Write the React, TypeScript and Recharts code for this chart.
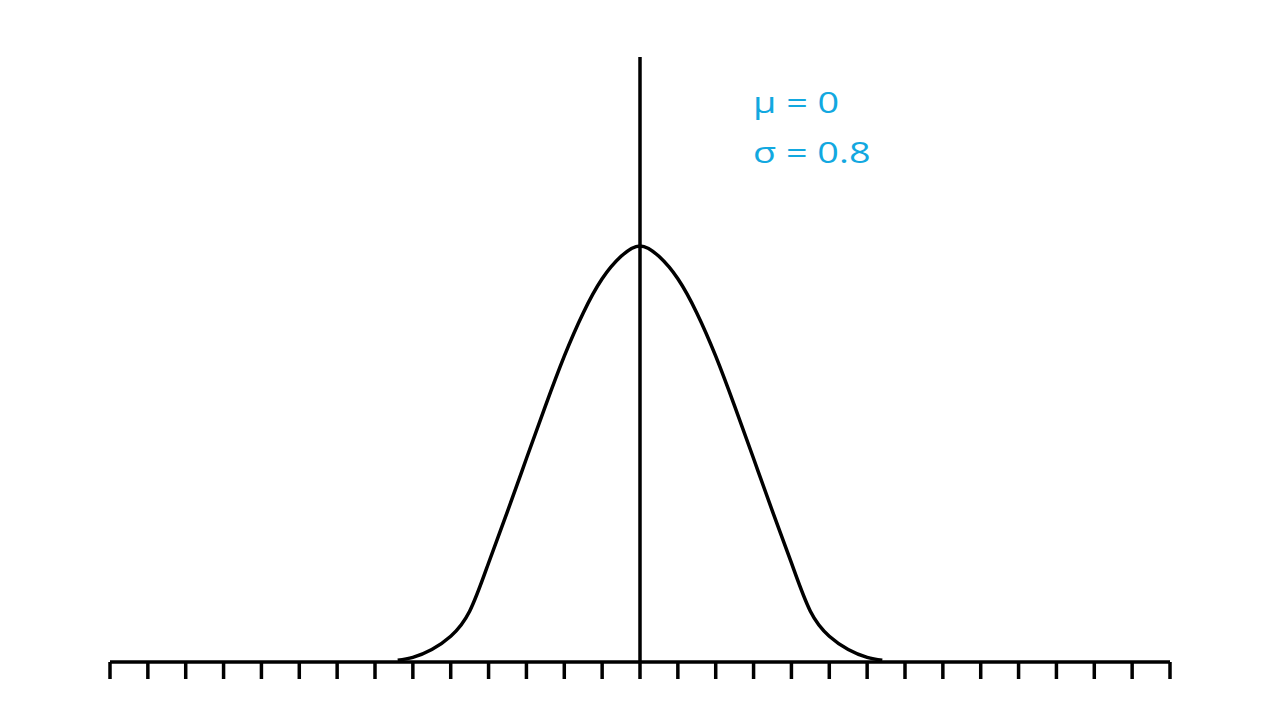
import React from "react";
import { LineChart, Line, XAxis, YAxis, ReferenceLine } from "recharts";

// x in tick-units (one tick = one unit), y relative to the peak (peak = 1)
const xLeft = [-6.4, -6, -5.5, -5, -4.5, -4, -3.5, -3, -2.5, -2, -1.5, -1, -0.5];
const yLeft = [0.004, 0.011, 0.03, 0.062, 0.122, 0.238, 0.362, 0.489, 0.615, 0.735, 0.839, 0.921, 0.975];
const peakY = 1.0;
const xTicks = [-14, -13, -12, -11, -10, -9, -8, -7, -6, -5, -4, -3, -2, -1, 0, 1, 2, 3, 4, 5, 6, 7, 8, 9, 10, 11, 12, 13, 14];
const labels = ["μ = 0", "σ = 0.8"];

const data = [
  ...xLeft.map((x, i) => ({ x, y: yLeft[i] })),
  { x: 0, y: peakY },
  ...xLeft
    .map((x, i) => ({ x: -x, y: yLeft[i] }))
    .reverse(),
];

const BLUE = "#12A8E0";

export default function App() {
  return (
    <div style={{ position: "absolute", left: 0, top: 0, width: 1280, height: 720, background: "#fff" }}>
      <LineChart
        width={1280}
        height={720}
        data={data}
        margin={{ top: 57, right: 110, bottom: 0, left: 110 }}
      >
        <XAxis
          dataKey="x"
          type="number"
          domain={[-14, 14]}
          ticks={xTicks}
          interval={0}
          tick={() => <g />}
          tickSize={17}
          height={58}
          axisLine={{ stroke: "#000", strokeWidth: 3.5 }}
          tickLine={{ stroke: "#000", strokeWidth: 3.5 }}
        />
        <YAxis hide domain={[0, 1.454]} type="number" />
        <ReferenceLine x={0} stroke="#000" strokeWidth={3.5} />
        <Line
          type="natural"
          dataKey="y"
          stroke="#000"
          strokeWidth={3.5}
          dot={false}
          isAnimationActive={false}
        />
      </LineChart>
      <svg
        width={1280}
        height={720}
        style={{ position: "absolute", left: 0, top: 0, pointerEvents: "none" }}
      >
        <text
          transform="translate(753,113) scale(1.26,1)"
          x={0}
          y={0}
          fill={BLUE}
          fontFamily="'Open Sans', sans-serif"
          fontSize={30}
        >
          {labels[0]}
        </text>
        <text
          transform="translate(753,163) scale(1.26,1)"
          x={0}
          y={0}
          fill={BLUE}
          fontFamily="'Open Sans', sans-serif"
          fontSize={30}
        >
          {labels[1]}
        </text>
      </svg>
    </div>
  );
}
